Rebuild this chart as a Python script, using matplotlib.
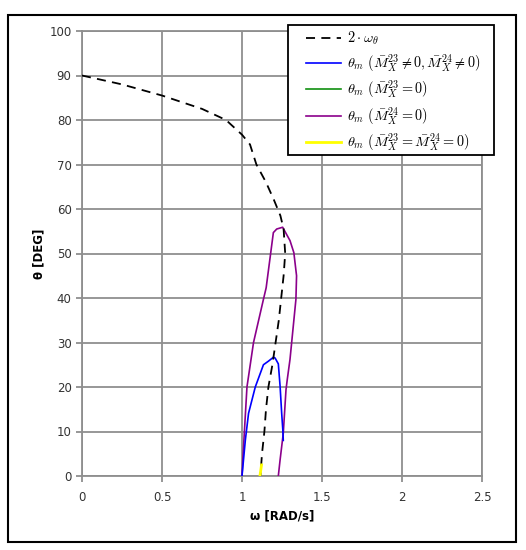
import matplotlib
matplotlib.use("Agg")
import matplotlib.pyplot as plt
from matplotlib.patches import Rectangle

# ---- data ----
omega_theta_x = [0.0, 0.25, 0.5, 0.75, 0.9, 1.0, 1.05, 1.09, 1.15, 1.2, 1.24, 1.26, 1.27, 1.26, 1.245, 1.23, 1.21, 1.19, 1.165, 1.15, 1.14, 1.125, 1.115]
omega_theta_y = [90, 88, 85.5, 82.5, 80, 76.7, 74.5, 70, 66, 62, 58.5, 55.5, 50, 45, 40, 35, 30, 25, 20, 15, 10, 5, 0]

blue_x = [1.0, 1.021, 1.041, 1.083, 1.134, 1.165, 1.197, 1.207, 1.227, 1.238, 1.248, 1.255, 1.258]
blue_y = [0, 8.1, 14.1, 20, 25, 25.8, 26.7, 26.5, 25.2, 20.2, 14.1, 10.4, 8.0]

green_x = []
green_y = []

purple_x = [1.0, 1.006, 1.031, 1.072, 1.134, 1.151, 1.196, 1.217, 1.254, 1.30, 1.324, 1.341, 1.337, 1.30, 1.283, 1.275, 1.258, 1.238, 1.227]
purple_y = [0, 4.4, 20, 30, 39.7, 42.3, 54.7, 55.5, 55.9, 52.9, 50.2, 45, 39.7, 26.2, 21.7, 19.4, 9.6, 3.6, 0]

yellow_x = [1.112, 1.117, 1.122]
yellow_y = [0, 1.2, 2.5]

x_ticks = [0, 0.5, 1, 1.5, 2, 2.5]
x_tick_labels = ["0", "0.5", "1", "1.5", "2", "2.5"]
y_ticks = [0, 10, 20, 30, 40, 50, 60, 70, 80, 90, 100]

labels = [
    r"$2\cdot\omega_\theta$",
    r"$\theta_m\ (\bar{M}_X^{23}\neq 0, \bar{M}_X^{24}\neq 0)$",
    r"$\theta_m\ (\bar{M}_X^{23}=0)$",
    r"$\theta_m\ (\bar{M}_X^{24}=0)$",
    r"$\theta_m\ (\bar{M}_X^{23}=\bar{M}_X^{24}=0)$",
]

plt.rcParams["mathtext.fontset"] = "cm"
plt.rcParams["font.family"] = ["DejaVu Sans"]

W, H = 526, 550
fig = plt.figure(figsize=(W/100, H/100), dpi=100)
ax = fig.add_axes([82/W, 1-476/H, 400/W, 445/H])

# outer frame
fig.patches.append(Rectangle((8/W, 1-542/H), 508/W, 527/H, transform=fig.transFigure,
                             fill=False, edgecolor="black", linewidth=1.5, zorder=0))

grid_c = "#8f8f8f"
ax.plot(omega_theta_x, omega_theta_y, color="black", linestyle=(0, (5, 3.5)), linewidth=1.3, label=labels[0], zorder=5)
ax.plot(blue_x, blue_y, color="#0000ff", linewidth=1.2, label=labels[1], zorder=4)
ax.plot(green_x, green_y, color="#109010", linewidth=1.2, label=labels[2], zorder=3)
ax.plot(purple_x, purple_y, color="#8b008b", linewidth=1.2, label=labels[3], zorder=3)
ax.plot(yellow_x, yellow_y, color="#ffff00", linewidth=2.0, label=labels[4], zorder=6)

ax.set_xlim(0, 2.5)
ax.set_ylim(0, 100)
ax.set_xticks(x_ticks)
ax.set_xticklabels(x_tick_labels)
ax.set_yticks(y_ticks)
ax.grid(True, color=grid_c, linewidth=1.3)
for s in ax.spines.values():
    s.set_color(grid_c)
    s.set_linewidth(1.3)
ax.tick_params(colors=grid_c, labelcolor="#333333", labelsize=8.5, length=4, width=1.3)
ax.tick_params(axis="x", pad=7)
ax.set_axisbelow(True)

ax.set_xlabel("ω [RAD/s]", fontsize=8.5, fontweight="bold", labelpad=4)
ax.set_ylabel("θ [DEG]", fontsize=8.5, fontweight="bold", labelpad=3)

# legend box frame (drawn separately for exact padding)
fig.patches.append(Rectangle((288/W, 1-155/H), 206/W, 130/H, transform=fig.transFigure,
                             facecolor="white", edgecolor="black", linewidth=1.3, zorder=10))
leg = fig.legend(loc="upper left", bbox_to_anchor=(306/W, 1-30/H), borderaxespad=0,
                 frameon=False, fontsize=10.3, handlelength=2.45,
                 handletextpad=0.45, labelspacing=0.33, borderpad=0.0)
leg.set_zorder(11)

fig.savefig("out.png", dpi=100)
